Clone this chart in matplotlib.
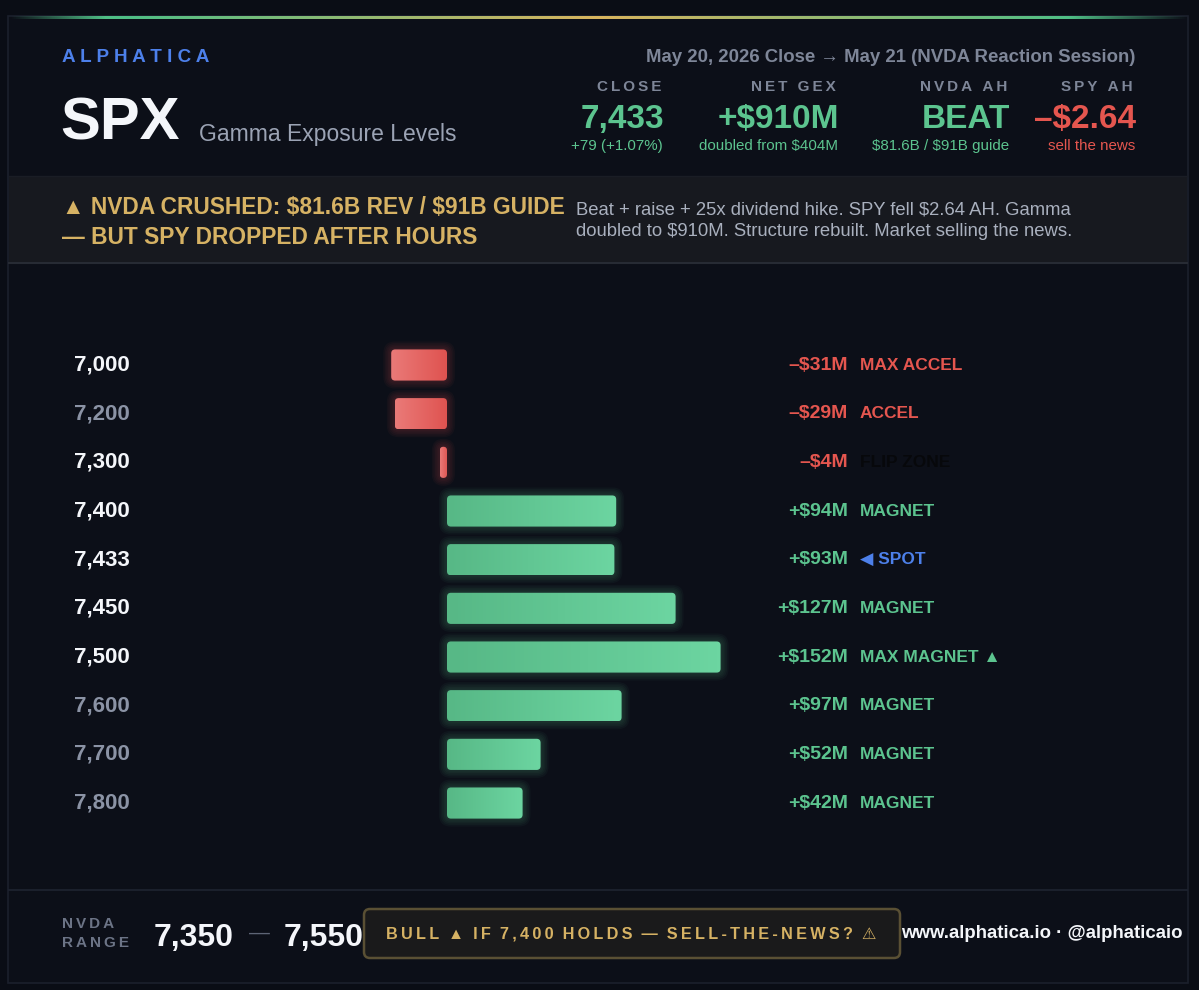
import numpy as np
import matplotlib
matplotlib.use("Agg")
import matplotlib.pyplot as plt
from matplotlib.patches import Rectangle, FancyBboxPatch
from matplotlib.colors import LinearSegmentedColormap, to_rgb

plt.rcParams['font.family'] = ['Liberation Sans', 'DejaVu Sans']

# data
strikes = ['7,000', '7,200', '7,300', '7,400', '7,433', '7,450', '7,500', '7,600', '7,700', '7,800']
gex_m = [-31, -29, -4, 94, 93, 127, 152, 97, 52, 42]
tags = ['MAX ACCEL', 'ACCEL', 'FLIP ZONE', 'MAGNET', '◀ SPOT', 'MAGNET',
        'MAX MAGNET ▲', 'MAGNET', 'MAGNET', 'MAGNET']
bright_strike = [True, False, True, True, True, True, True, False, False, False]

stat_titles = ['CLOSE', 'NET GEX', 'NVDA AH', 'SPY AH']
stat_values = ['7,433', '+$910M', 'BEAT', '–$2.64']
stat_notes = ['+79 (+1.07%)', 'doubled from $404M', '$81.6B / $91B guide', 'sell the news']
stat_up = [True, True, True, False]

BG = '#0a0d15'
CARD = '#0c0f18'
GREEN = '#5cc48f'
RED = '#e5564f'
GOLD = '#d6b264'
BLUE = '#4d80ea'
GREY = '#7e8698'
WHITE = '#f4f6fa'


def spaced(s, sep='\u2009'):
    return sep.join(s)


fig = plt.figure(figsize=(11.99, 9.9), dpi=100)
fig.patch.set_facecolor(BG)

bg = fig.add_axes([0, 0, 1, 1])
bg.set_xlim(0, 1199)
bg.set_ylim(990, 0)
bg.axis('off')


def txt(axis, x, y, s, **kw):
    return axis.text(x, y, s, parse_math=False, **kw)


# card + bands
bg.add_patch(Rectangle((8, 16), 1180, 967, fc=CARD, ec='#1b202c', lw=1.2, zorder=0))
bg.add_patch(Rectangle((9, 176), 1178, 87, fc='#17191f', ec='none', zorder=1))
bg.plot([9, 1187], [263, 263], color='#272b34', lw=1.5, zorder=2)
bg.plot([9, 1187], [176, 176], color='#1a1d25', lw=1, zorder=2)
bg.plot([9, 1187], [890, 890], color='#1f2431', lw=1.2, zorder=2)

# top gradient strip
n = 600
t = np.linspace(0, 1, n)
g = np.array(to_rgb('#4fbf86'))
y = np.array(to_rgb('#d8b45e'))
mix = np.clip(1 - np.abs(t - 0.5) / 0.4, 0, 1)[:, None]
cols = g * (1 - mix) + y * mix
alpha = np.clip(np.minimum(t / 0.08, (1 - t) / 0.1), 0, 1)
strip = np.dstack([cols[None, :, 0], cols[None, :, 1], cols[None, :, 2], alpha[None, :]])
bg.imshow(strip, extent=(10, 1188, 19.5, 16.5), aspect='auto', zorder=3)
bg.set_xlim(0, 1199)
bg.set_ylim(990, 0)

# header left
txt(bg, 62, 57, ' '.join('ALPHATICA'), color=BLUE, fontsize=13.6, fontweight='bold', va='center')
txt(bg, 60, 140, 'SPX', color=WHITE, fontsize=43, fontweight='bold', va='baseline')
txt(bg, 199, 141, 'Gamma Exposure Levels', color='#9ba3b4', fontsize=16.5, va='baseline')

# header right
txt(bg, 1135, 57, 'May 20, 2026 Close → May 21 (NVDA Reaction Session)', color=GREY,
    fontsize=13.4, fontweight='bold', ha='right', va='center')
stat_right = [663, 838, 1009, 1135]
for xr, ttl, val, note, up in zip(stat_right, stat_titles, stat_values, stat_notes, stat_up):
    c = GREEN if up else RED
    txt(bg, xr - 2, 87, spaced(ttl), color=GREY, fontsize=11, fontweight='bold', ha='right', va='center')
    txt(bg, xr + 1, 128, val, color=c, fontsize=24, fontweight='bold', ha='right', va='baseline')
    txt(bg, xr, 146, note, color=c, fontsize=10.9, ha='right', va='center')

# alert band
txt(bg, 62, 208, '▲ NVDA CRUSHED: $81.6B REV / $91B GUIDE', color=GOLD, fontsize=16.4,
    fontweight='bold', va='center')
txt(bg, 62, 237, '— BUT SPY DROPPED AFTER HOURS', color=GOLD, fontsize=16.4,
    fontweight='bold', va='center')
txt(bg, 576, 210, 'Beat + raise + 25x dividend hike. SPY fell $2.64 AH. Gamma',
    color='#a9b0be', fontsize=13.3, va='center')
txt(bg, 576, 231, 'doubled to $910M. Structure rebuilt. Market selling the news.',
    color='#a9b0be', fontsize=13.3, va='center')

# footer
txt(bg, 62, 924, spaced('NVDA'), color='#6c7486', fontsize=11, fontweight='bold', va='center')
txt(bg, 62, 943, spaced('RANGE'), color='#6c7486', fontsize=11, fontweight='bold', va='center')
txt(bg, 154, 946, '7,350', color=WHITE, fontsize=23, fontweight='bold', va='baseline')
txt(bg, 259, 933, '—', color='#5d6475', fontsize=15, ha='center', va='center')
txt(bg, 284, 946, '7,550', color=WHITE, fontsize=23, fontweight='bold', va='baseline')
bg.add_patch(FancyBboxPatch((364, 909), 536, 49, boxstyle='round,pad=0,rounding_size=6',
                            fc='#1a1a1b', ec='#5a5034', lw=1.8, zorder=4))
banner = 'BULL ▲ IF 7,400 HOLDS — SELL-THE-NEWS? ⚠'
banner_txt = '  '.join('\u2009'.join(w) for w in banner.split(' '))
txt(bg, 631, 934, banner_txt, color=GOLD, fontsize=11.7,
    fontweight='bold', ha='center', va='center', zorder=5)
txt(bg, 1183, 934, 'www.alphatica.io · @alphaticaio', color=WHITE, fontsize=13.4,
    fontweight='bold', ha='right', va='center', zorder=5)

# chart axes: zero at pixel 447, 1.8 px per $M
ZERO_PX, PX_PER_M = 447, 1.8
ROW0, ROW_STEP = 365, 48.67


def px2x(px):
    return (px - ZERO_PX) / PX_PER_M


top_px = ROW0 - ROW_STEP / 2
bot_px = ROW0 + ROW_STEP * (len(strikes) - 0.5)
ax = fig.add_axes([40 / 1199, 1 - bot_px / 990, 1120 / 1199, (bot_px - top_px) / 990])
ax.set_xlim(px2x(40), px2x(1160))
ax.set_ylim(len(strikes) - 0.5, -0.5)
ax.axis('off')
ax.patch.set_alpha(0)

rows = np.arange(len(strikes))
bar_h = 0.64
bars = ax.barh(rows, gex_m, height=bar_h, color='none')
aspect = (1 / ROW_STEP) / (1 / PX_PER_M)

green_cm = LinearSegmentedColormap.from_list('g', ['#57b886', '#6cd5a1'])
red_cm = LinearSegmentedColormap.from_list('r', ['#ea7a78', '#df5350'])
grad = np.linspace(0, 1, 64)[None, :]

for rect, v in zip(bars, gex_m):
    x0, y0 = rect.get_x(), rect.get_y()
    w, h = rect.get_width(), rect.get_height()
    if w < 0:
        x0, w = x0 + w, -w
    base = '#5cc48f' if v > 0 else '#e5564f'
    rnd = min(4, w * PX_PER_M / 2) / PX_PER_M
    # soft glow
    for k in range(1, 6):
        ax.add_patch(FancyBboxPatch((x0, y0), w, h,
                                    boxstyle=f'round,pad={k * 1.6 / PX_PER_M},rounding_size={rnd + k * 1.6 / PX_PER_M}',
                                    mutation_aspect=aspect, fc=base, ec='none', alpha=0.045, zorder=1))
    patch = FancyBboxPatch((x0, y0), w, h, boxstyle=f'round,pad=0,rounding_size={rnd}',
                           mutation_aspect=aspect, fc='none', ec='none', zorder=2)
    ax.add_patch(patch)
    im = ax.imshow(grad, cmap=green_cm if v > 0 else red_cm, extent=(x0, x0 + w, y0 + h, y0),
                   aspect='auto', zorder=3)
    im.set_clip_path(patch)

ax.set_xlim(px2x(40), px2x(1160))
ax.set_ylim(len(strikes) - 0.5, -0.5)

for i, (s, v, tag, br) in enumerate(zip(strikes, gex_m, tags, bright_strike)):
    txt(ax, px2x(130), i, s, color=WHITE if br else '#8b93a5', fontsize=16, fontweight='bold',
        ha='right', va='center')
    c = GREEN if v > 0 else RED
    val = ('+' if v > 0 else '–') + f'${abs(v)}M'
    txt(ax, px2x(848), i, val, color=c, fontsize=14, fontweight='bold', ha='right', va='center')
    if 'SPOT' in tag:
        tc = BLUE
    elif 'FLIP' in tag:
        tc = '#07080b'
    else:
        tc = c
    txt(ax, px2x(860), i, tag, color=tc, fontsize=12.5, fontweight='bold', ha='left', va='center')

fig.savefig('out.png', dpi=100, facecolor=BG)
